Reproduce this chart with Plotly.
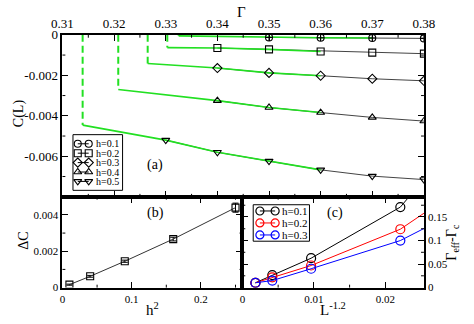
import plotly.graph_objects as go

W, H = 474, 324

# ---------------- data: panel (a) ----------------
gamma = [0.33, 0.34, 0.35, 0.36, 0.37, 0.38]
h_labels = ["h=0.1", "h=0.2", "h=0.3", "h=0.4", "h=0.5"]
c_h01 = [None, None, -0.000128, -0.000142, -0.000156, -0.000175]
c_h02 = [None, -0.00065, -0.00072, -0.00082, -0.00088, -0.00093]
c_h03 = [None, -0.00164, -0.00188, -0.00202, -0.00217, -0.00227]
c_h04 = [None, -0.00325, -0.00359, -0.00384, -0.00408, -0.00426]
c_h05 = [-0.0052, -0.0058, -0.00624, -0.00667, -0.00698, -0.00715]
c_series = [c_h01, c_h02, c_h03, c_h04, c_h05]
gamma_c = [0.3325, 0.3303, 0.3265, 0.3208, 0.3139]
c_at_gamma_c = [-0.00005, -0.00063, -0.00142, -0.0027, -0.00446]
green_end = [0.37, 0.36, 0.36, 0.36, 0.36]
a_xticks = [0.31, 0.32, 0.33, 0.34, 0.35, 0.36, 0.37, 0.38]
a_xtext = ["0.31", "0.32", "0.33", "0.34", "0.35", "0.36", "0.37", "0.38"]
a_xminor = [0.315, 0.325, 0.335, 0.345, 0.355, 0.365, 0.375]
a_yticks = [0, -0.002, -0.004, -0.006]
a_ytext = ["0", "-0.002", "-0.004", "-0.006"]
a_yminor = [-0.001, -0.003, -0.005, -0.007]

# ---------------- data: panel (b) ----------------
h_sq = [0.01, 0.04, 0.09, 0.16, 0.25]
delta_c = [0.00016, 0.00062, 0.00145, 0.00267, 0.0044]
delta_c_err = [0.00003, 0.00005, 0.00006, 0.0001, 0.00025]
b_xticks = [0, 0.1, 0.2]
b_xtext = ["0", "0.1", "0.2"]
b_xminor = [0.05, 0.15, 0.25]
b_yticks = [0, 0.002, 0.004]
b_ytext = ["0", "0.002", "0.004"]
b_yminor = [0.001, 0.003]

# ---------------- data: panel (c) ----------------
L_inv = [0.00182, 0.00418, 0.00961, 0.0221, 0.0359]
c_labels = ["h=0.1", "h=0.2", "h=0.3"]
gdiff_h01 = [0.0102, 0.0265, 0.0624, 0.171, 0.42]
gdiff_h02 = [0.0102, 0.0217, 0.0469, 0.124, 0.266]
gdiff_h03 = [0.0102, 0.0149, 0.040, 0.0999, 0.207]
gdiff_series = [gdiff_h01, gdiff_h02, gdiff_h03]
c_xticks = [0, 0.01, 0.02]
c_xtext = ["0", "0.01", "0.02"]
c_xminor = [0.005, 0.015]
c_yticks = [0, 0.05, 0.1, 0.15]
c_ytext = ["0", "0.05", "0.1", "0.15"]
c_yminor = [0.025, 0.075, 0.125, 0.175]

# ---------------- layout constants ----------------
SERIF = '"Liberation Serif", "Times New Roman", Times, serif'
GREEN = "#22e022"
symbols_a = ["circle-cross-open", "square-open", "diamond-open",
             "triangle-up-open", "triangle-down-open"]
colors_c = ["black", "red", "blue"]
XL, XM, XR = 54, 242.7, 433
YT, YM, YB = 29, 197.7, 292.3
RA_X, RA_Y = [0.31, 0.38], [-0.008, 0]
RB_X, RB_Y = [0, 0.26], [0, 0.005]
RC_X, RC_Y = [0, 0.0254], [0, 0.193]


def px(x):
    return x / W


def py(y):
    return 1 - y / H


def a_data(xp, yp):
    return (RA_X[0] + (xp - XL) / (XR - XL) * (RA_X[1] - RA_X[0]),
            RA_Y[1] - (yp - YT) / (YM - YT) * (RA_Y[1] - RA_Y[0]))


def c_data(xp, yp):
    return (RC_X[0] + (xp - XM) / (XR - XM) * (RC_X[1] - RC_X[0]),
            RC_Y[0] + (YB - yp) / (YB - YM) * (RC_Y[1] - RC_Y[0]))


fig = go.Figure()

# panel (a): black connecting lines
for ser in c_series:
    xs = [g for g, c in zip(gamma, ser) if c is not None]
    ys = [c for c in ser if c is not None]
    fig.add_trace(go.Scatter(x=xs, y=ys, mode="lines",
                             line=dict(color="#444", width=1),
                             showlegend=False, xaxis="x", yaxis="y"))
# panel (a): green curves and dashed verticals
for ser, gc, cc, ge in zip(c_series, gamma_c, c_at_gamma_c, green_end):
    xs = [gc] + [g for g, c in zip(gamma, ser) if c is not None and g <= ge + 1e-9]
    ys = [cc] + [c for g, c in zip(gamma, ser) if c is not None and g <= ge + 1e-9]
    fig.add_trace(go.Scatter(x=xs, y=ys, mode="lines",
                             line=dict(color=GREEN, width=1.6),
                             showlegend=False, xaxis="x", yaxis="y"))
    fig.add_trace(go.Scatter(x=[gc, gc], y=[0, cc], mode="lines",
                             line=dict(color=GREEN, width=2, dash="7px,4px"),
                             showlegend=False, xaxis="x", yaxis="y"))
# panel (a): markers
for ser, sym in zip(c_series, symbols_a):
    xs = [g for g, c in zip(gamma, ser) if c is not None]
    ys = [c for c in ser if c is not None]
    fig.add_trace(go.Scatter(x=xs, y=ys, mode="markers",
                             marker=dict(symbol=sym, size=7, color="black",
                                         line=dict(width=1.1, color="black")),
                             showlegend=False, xaxis="x", yaxis="y"))

# panel (b)
fig.add_trace(go.Scatter(x=h_sq, y=delta_c, mode="lines+markers",
                         line=dict(color="#333", width=1),
                         marker=dict(symbol="square-open", size=7, color="black",
                                     line=dict(width=1.1, color="black")),
                         error_y=dict(type="data", array=delta_c_err, color="black",
                                      thickness=1, width=3),
                         showlegend=False, xaxis="x2", yaxis="y2"))

# panel (c)
for ser, col in zip(gdiff_series, colors_c):
    fig.add_trace(go.Scatter(x=L_inv, y=ser, mode="lines+markers",
                             line=dict(color=col, width=1),
                             marker=dict(symbol="circle-open", size=9, color=col,
                                         line=dict(width=1.2, color=col)),
                             showlegend=False, xaxis="x3", yaxis="y3"))

shapes = []
annotations = []

# ---------------- hand-made legend (a) ----------------
la = dict(x0=65, y0=133, x1=117, y1=191, row0=142.5, dy=9.8, mx0=70, mx1=81.5, tx=87)
bx0, by0 = a_data(la["x0"], la["y0"])
bx1, by1 = a_data(la["x1"], la["y1"])
shapes.append(dict(type="rect", xref="x", yref="y", x0=bx0, x1=bx1, y0=by1, y1=by0,
                   line=dict(color="black", width=1), fillcolor="white", layer="below"))
for i, (lab, sym) in enumerate(zip(h_labels, symbols_a)):
    yy = la["row0"] + i * la["dy"]
    p0 = a_data(la["mx0"], yy)
    p1 = a_data(la["mx1"], yy)
    fig.add_trace(go.Scatter(x=[p0[0], p1[0]], y=[p0[1], p1[1]], mode="lines+markers",
                             line=dict(color="black", width=1),
                             marker=dict(symbol=sym.replace("-cross", ""), size=7, color="black",
                                         line=dict(width=1.1, color="black")),
                             showlegend=False, xaxis="x", yaxis="y", hoverinfo="skip"))
    annotations.append(dict(text=lab, x=px(la["tx"]), y=py(yy), xref="paper", yref="paper",
                            xanchor="left", yanchor="middle", showarrow=False,
                            font=dict(family=SERIF, size=10, color="black")))

# ---------------- hand-made legend (c) ----------------
lc = dict(x0=254, y0=206, x1=313, y1=244, row0=212.5, dy=12.5, mx0=261, mx1=277, tx=282)
cx0, cy0 = c_data(lc["x0"], lc["y0"])
cx1, cy1 = c_data(lc["x1"], lc["y1"])
shapes.append(dict(type="rect", xref="x3", yref="y3", x0=cx0, x1=cx1, y0=cy1, y1=cy0,
                   line=dict(color="black", width=1), fillcolor="white", layer="below"))
for i, (lab, col) in enumerate(zip(c_labels, colors_c)):
    yy = lc["row0"] + i * lc["dy"]
    p0 = c_data(lc["mx0"], yy)
    p1 = c_data(lc["mx1"], yy)
    fig.add_trace(go.Scatter(x=[p0[0], p1[0]], y=[p0[1], p1[1]], mode="lines+markers",
                             line=dict(color=col, width=1),
                             marker=dict(symbol="circle-open", size=8, color=col,
                                         line=dict(width=1.2, color=col)),
                             showlegend=False, xaxis="x3", yaxis="y3", hoverinfo="skip"))
    annotations.append(dict(text=lab, x=px(lc["tx"]), y=py(yy), xref="paper", yref="paper",
                            xanchor="left", yanchor="middle", showarrow=False,
                            font=dict(family=SERIF, size=11, color="black")))


# ---------------- minor ticks (short inward ticks on both sides) ----------------
def minor_x(vals, xref, yref, plot_h, ln=3):
    for v in vals:
        shapes.append(dict(type="line", xref=xref, yref=yref + " domain", x0=v, x1=v,
                           y0=0, y1=ln / plot_h, line=dict(color="black", width=1)))
        shapes.append(dict(type="line", xref=xref, yref=yref + " domain", x0=v, x1=v,
                           y0=1, y1=1 - ln / plot_h, line=dict(color="black", width=1)))


def minor_y(vals, xref, yref, plot_w, ln=3):
    for v in vals:
        shapes.append(dict(type="line", xref=xref + " domain", yref=yref, y0=v, y1=v,
                           x0=0, x1=ln / plot_w, line=dict(color="black", width=1)))
        shapes.append(dict(type="line", xref=xref + " domain", yref=yref, y0=v, y1=v,
                           x0=1, x1=1 - ln / plot_w, line=dict(color="black", width=1)))


minor_x(a_xminor, "x", "y", YM - YT)
minor_y(a_yminor, "x", "y", XR - XL)
minor_x(b_xminor, "x2", "y2", YB - YM)
minor_y(b_yminor, "x2", "y2", XM - XL)
minor_x(c_xminor, "x3", "y3", YB - YM)
minor_y(c_yminor, "x3", "y3", XR - XM)


def label(text, x, y, size, angle=0):
    annotations.append(dict(text=text, x=px(x), y=py(y), xref="paper", yref="paper",
                            xanchor="center", yanchor="middle", showarrow=False,
                            textangle=angle, font=dict(family=SERIF, size=size, color="black")))


label("Γ", 241.5, 5, 15)
label("C(L)", 8, 111, 14, -90)
label("(a)", 151.5, 165, 14)
label("(b)", 151.5, 215, 14)
label("(c)", 340, 215, 14)
label("ΔC", 13, 243, 14, -90)
label("h<sup>2</sup>", 148, 315, 15)
label("L<sup>-1.2</sup>", 338, 315, 15)
label("Γ<sub>eff</sub>-Γ<sub>c</sub>", 463, 245, 14, -90)

# ---------------- axes ----------------
major = dict(showline=True, linewidth=2, linecolor="black", mirror="ticks",
             ticks="inside", tickcolor="black", tickwidth=1, ticklen=6,
             showgrid=False, zeroline=False, tickmode="array")

fig.update_layout(
    width=W, height=H, margin=dict(l=0, r=0, t=0, b=0),
    paper_bgcolor="white", plot_bgcolor="rgba(0,0,0,0)",
    font=dict(family=SERIF, color="black"),
    showlegend=False,
    xaxis=dict(major, domain=[px(XL), px(XR)], range=RA_X, side="top", anchor="y",
               tickvals=a_xticks, ticktext=a_xtext,
               tickfont=dict(family=SERIF, size=13, color="black")),
    yaxis=dict(major, domain=[py(YM), py(YT)], range=RA_Y, anchor="x",
               tickvals=a_yticks, ticktext=a_ytext,
               tickfont=dict(family=SERIF, size=13, color="black")),
    xaxis2=dict(major, domain=[px(XL), px(XM)], range=RB_X, anchor="y2",
                tickvals=b_xticks, ticktext=b_xtext,
                tickfont=dict(family=SERIF, size=11, color="black")),
    yaxis2=dict(major, domain=[py(YB), py(YM)], range=RB_Y, anchor="x2",
                tickvals=b_yticks, ticktext=b_ytext,
                tickfont=dict(family=SERIF, size=11, color="black")),
    xaxis3=dict(major, domain=[px(XM), px(XR)], range=RC_X, anchor="y3",
                tickvals=c_xticks, ticktext=c_xtext,
                tickfont=dict(family=SERIF, size=11, color="black")),
    yaxis3=dict(major, domain=[py(YB), py(YM)], range=RC_Y, anchor="x3", side="right",
                tickvals=c_yticks, ticktext=c_ytext,
                tickfont=dict(family=SERIF, size=11, color="black")),
    shapes=shapes,
    annotations=annotations,
)

fig.write_html("out.html")
